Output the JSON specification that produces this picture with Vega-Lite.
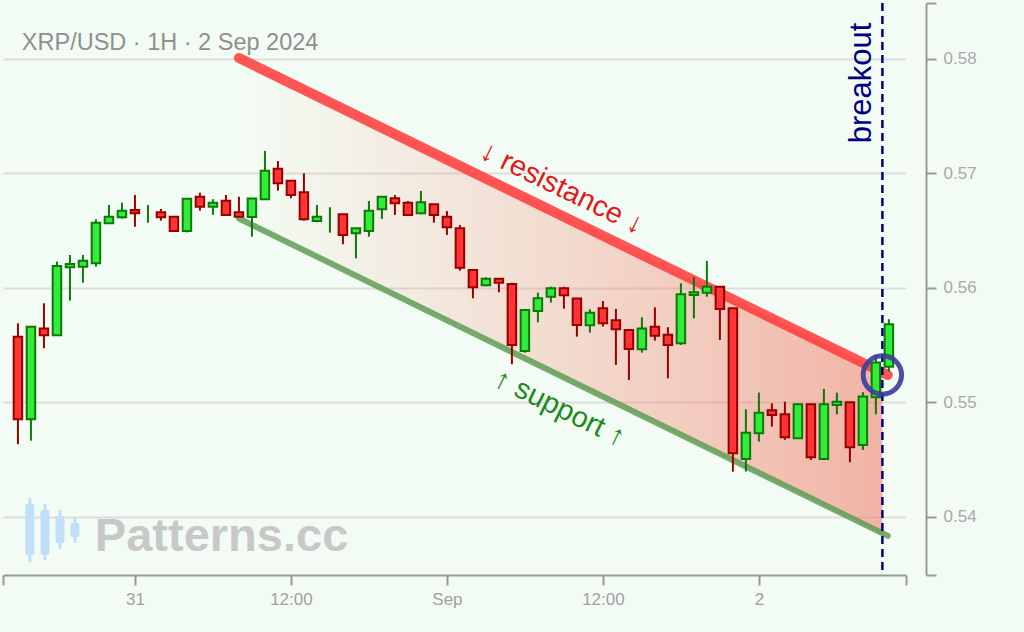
{
  "$schema": "https://vega.github.io/schema/vega-lite/v6.json",
  "description": "XRP/USD 1H descending channel with breakout",
  "width": 903,
  "height": 572,
  "autosize": {"type": "none"},
  "padding": {"left": 3, "top": 3, "right": 118, "bottom": 57},
  "background": "#f3fcf4",
  "config": {"font": "Liberation Sans", "view": {"stroke": null}},
  "datasets": {
    "candles": [
      {"t": "2024-08-30T15:00:00Z", "o": 0.55575, "h": 0.55692, "l": 0.54635, "c": 0.54853},
      {"t": "2024-08-30T16:00:00Z", "o": 0.54853, "h": 0.55665, "l": 0.54666, "c": 0.55662},
      {"t": "2024-08-30T17:00:00Z", "o": 0.55645, "h": 0.55866, "l": 0.55473, "c": 0.55587},
      {"t": "2024-08-30T18:00:00Z", "o": 0.55587, "h": 0.56230, "l": 0.55585, "c": 0.56192},
      {"t": "2024-08-30T19:00:00Z", "o": 0.56181, "h": 0.56288, "l": 0.55889, "c": 0.56210},
      {"t": "2024-08-30T20:00:00Z", "o": 0.56186, "h": 0.56288, "l": 0.56046, "c": 0.56238},
      {"t": "2024-08-30T21:00:00Z", "o": 0.56216, "h": 0.56600, "l": 0.56186, "c": 0.56570},
      {"t": "2024-08-30T22:00:00Z", "o": 0.56565, "h": 0.56725, "l": 0.56563, "c": 0.56623},
      {"t": "2024-08-30T23:00:00Z", "o": 0.56617, "h": 0.56745, "l": 0.56605, "c": 0.56675},
      {"t": "2024-08-31T00:00:00Z", "o": 0.56681, "h": 0.56812, "l": 0.56535, "c": 0.56652},
      {"t": "2024-08-31T01:00:00Z", "o": 0.56655, "h": 0.56725, "l": 0.56570, "c": 0.56655},
      {"t": "2024-08-31T02:00:00Z", "o": 0.56661, "h": 0.56690, "l": 0.56588, "c": 0.56617},
      {"t": "2024-08-31T03:00:00Z", "o": 0.56623, "h": 0.56625, "l": 0.56495, "c": 0.56498},
      {"t": "2024-08-31T04:00:00Z", "o": 0.56498, "h": 0.56782, "l": 0.56486, "c": 0.56780},
      {"t": "2024-08-31T05:00:00Z", "o": 0.56797, "h": 0.56832, "l": 0.56675, "c": 0.56710},
      {"t": "2024-08-31T06:00:00Z", "o": 0.56710, "h": 0.56775, "l": 0.56638, "c": 0.56745},
      {"t": "2024-08-31T07:00:00Z", "o": 0.56762, "h": 0.56812, "l": 0.56636, "c": 0.56638},
      {"t": "2024-08-31T08:00:00Z", "o": 0.56661, "h": 0.56797, "l": 0.56620, "c": 0.56623},
      {"t": "2024-08-31T09:00:00Z", "o": 0.56620, "h": 0.56784, "l": 0.56448, "c": 0.56782},
      {"t": "2024-08-31T10:00:00Z", "o": 0.56775, "h": 0.57197, "l": 0.56772, "c": 0.57024},
      {"t": "2024-08-31T11:00:00Z", "o": 0.57042, "h": 0.57109, "l": 0.56850, "c": 0.56914},
      {"t": "2024-08-31T12:00:00Z", "o": 0.56937, "h": 0.56940, "l": 0.56783, "c": 0.56812},
      {"t": "2024-08-31T13:00:00Z", "o": 0.56836, "h": 0.57002, "l": 0.56588, "c": 0.56600},
      {"t": "2024-08-31T14:00:00Z", "o": 0.56585, "h": 0.56725, "l": 0.56574, "c": 0.56623},
      {"t": "2024-08-31T15:00:00Z", "o": 0.56603, "h": 0.56705, "l": 0.56483, "c": 0.56603},
      {"t": "2024-08-31T16:00:00Z", "o": 0.56644, "h": 0.56646, "l": 0.56382, "c": 0.56463},
      {"t": "2024-08-31T17:00:00Z", "o": 0.56478, "h": 0.56523, "l": 0.56259, "c": 0.56521},
      {"t": "2024-08-31T18:00:00Z", "o": 0.56498, "h": 0.56760, "l": 0.56448, "c": 0.56675},
      {"t": "2024-08-31T19:00:00Z", "o": 0.56687, "h": 0.56799, "l": 0.56603, "c": 0.56797},
      {"t": "2024-08-31T20:00:00Z", "o": 0.56783, "h": 0.56812, "l": 0.56638, "c": 0.56740},
      {"t": "2024-08-31T21:00:00Z", "o": 0.56745, "h": 0.56760, "l": 0.56636, "c": 0.56638},
      {"t": "2024-08-31T22:00:00Z", "o": 0.56652, "h": 0.56847, "l": 0.56644, "c": 0.56748},
      {"t": "2024-08-31T23:00:00Z", "o": 0.56731, "h": 0.56733, "l": 0.56570, "c": 0.56638},
      {"t": "2024-09-01T00:00:00Z", "o": 0.56623, "h": 0.56672, "l": 0.56463, "c": 0.56530},
      {"t": "2024-09-01T01:00:00Z", "o": 0.56521, "h": 0.56550, "l": 0.56151, "c": 0.56177},
      {"t": "2024-09-01T02:00:00Z", "o": 0.56157, "h": 0.56163, "l": 0.55910, "c": 0.56006},
      {"t": "2024-09-01T03:00:00Z", "o": 0.56024, "h": 0.56094, "l": 0.56015, "c": 0.56081},
      {"t": "2024-09-01T04:00:00Z", "o": 0.56081, "h": 0.56083, "l": 0.55962, "c": 0.56046},
      {"t": "2024-09-01T05:00:00Z", "o": 0.56035, "h": 0.56046, "l": 0.55334, "c": 0.55502},
      {"t": "2024-09-01T06:00:00Z", "o": 0.55450, "h": 0.55810, "l": 0.55435, "c": 0.55808},
      {"t": "2024-09-01T07:00:00Z", "o": 0.55799, "h": 0.55959, "l": 0.55700, "c": 0.55910},
      {"t": "2024-09-01T08:00:00Z", "o": 0.55924, "h": 0.56011, "l": 0.55872, "c": 0.55997},
      {"t": "2024-09-01T09:00:00Z", "o": 0.55997, "h": 0.56011, "l": 0.55819, "c": 0.55936},
      {"t": "2024-09-01T10:00:00Z", "o": 0.55907, "h": 0.55909, "l": 0.55575, "c": 0.55677},
      {"t": "2024-09-01T11:00:00Z", "o": 0.55674, "h": 0.55814, "l": 0.55610, "c": 0.55784},
      {"t": "2024-09-01T12:00:00Z", "o": 0.55823, "h": 0.55886, "l": 0.55663, "c": 0.55692},
      {"t": "2024-09-01T13:00:00Z", "o": 0.55718, "h": 0.55817, "l": 0.55328, "c": 0.55639},
      {"t": "2024-09-01T14:00:00Z", "o": 0.55633, "h": 0.55635, "l": 0.55196, "c": 0.55467},
      {"t": "2024-09-01T15:00:00Z", "o": 0.55465, "h": 0.55744, "l": 0.55435, "c": 0.55645},
      {"t": "2024-09-01T16:00:00Z", "o": 0.55662, "h": 0.55831, "l": 0.55540, "c": 0.55583},
      {"t": "2024-09-01T17:00:00Z", "o": 0.55592, "h": 0.55657, "l": 0.55211, "c": 0.55502},
      {"t": "2024-09-01T18:00:00Z", "o": 0.55517, "h": 0.56041, "l": 0.55502, "c": 0.55945},
      {"t": "2024-09-01T19:00:00Z", "o": 0.55939, "h": 0.56096, "l": 0.55735, "c": 0.55962},
      {"t": "2024-09-01T20:00:00Z", "o": 0.55959, "h": 0.56236, "l": 0.55924, "c": 0.56011},
      {"t": "2024-09-01T21:00:00Z", "o": 0.56011, "h": 0.56013, "l": 0.55546, "c": 0.55817},
      {"t": "2024-09-01T22:00:00Z", "o": 0.55823, "h": 0.55825, "l": 0.54396, "c": 0.54556},
      {"t": "2024-09-01T23:00:00Z", "o": 0.54507, "h": 0.54941, "l": 0.54396, "c": 0.54736},
      {"t": "2024-09-02T00:00:00Z", "o": 0.54731, "h": 0.55086, "l": 0.54658, "c": 0.54911},
      {"t": "2024-09-02T01:00:00Z", "o": 0.54932, "h": 0.54993, "l": 0.54789, "c": 0.54891},
      {"t": "2024-09-02T02:00:00Z", "o": 0.54897, "h": 0.55007, "l": 0.54673, "c": 0.54696},
      {"t": "2024-09-02T03:00:00Z", "o": 0.54687, "h": 0.54993, "l": 0.54685, "c": 0.54984},
      {"t": "2024-09-02T04:00:00Z", "o": 0.54984, "h": 0.54986, "l": 0.54498, "c": 0.54521},
      {"t": "2024-09-02T05:00:00Z", "o": 0.54507, "h": 0.55118, "l": 0.54505, "c": 0.54984},
      {"t": "2024-09-02T06:00:00Z", "o": 0.54978, "h": 0.55086, "l": 0.54897, "c": 0.55007},
      {"t": "2024-09-02T07:00:00Z", "o": 0.55002, "h": 0.55004, "l": 0.54478, "c": 0.54609},
      {"t": "2024-09-02T08:00:00Z", "o": 0.54629, "h": 0.55090, "l": 0.54585, "c": 0.55051},
      {"t": "2024-09-02T09:00:00Z", "o": 0.55045, "h": 0.55415, "l": 0.54897, "c": 0.55348},
      {"t": "2024-09-02T10:00:00Z", "o": 0.55313, "h": 0.55727, "l": 0.55269, "c": 0.55683}
    ],
    "channel": [
      {"k": "res", "t": "2024-08-31T08:00:00Z", "p": 0.58009},
      {"k": "res", "t": "2024-09-02T09:55:00Z", "p": 0.55240},
      {"k": "sup", "t": "2024-08-31T08:00:00Z", "p": 0.56607},
      {"k": "sup", "t": "2024-09-02T09:55:00Z", "p": 0.53835}
    ],
    "zone": [
      {"t": "2024-08-31T08:00:00Z", "top": 0.58009, "bot": 0.56607},
      {"t": "2024-09-02T09:30:00Z", "top": 0.55266, "bot": 0.53849}
    ],
    "icon": [
      {"t": "2024-08-30T15:55:00Z", "o": 0.54114, "c": 0.53668, "h": 0.54166, "l": 0.53607},
      {"t": "2024-08-30T17:05:00Z", "o": 0.54061, "c": 0.53668, "h": 0.54114, "l": 0.53624},
      {"t": "2024-08-30T18:14:00Z", "o": 0.54009, "c": 0.53773, "h": 0.54061, "l": 0.53721},
      {"t": "2024-08-30T19:23:00Z", "o": 0.53948, "c": 0.53825, "h": 0.54000, "l": 0.53773}
    ]
  },
  "encoding": {
    "x": {
      "field": "t",
      "type": "temporal",
      "title": null,
      "scale": {"type": "utc", "domain": [1725025860000, 1725275940000], "padding": 0},
      "axis": {
        "values": [1725025860000, 1725062400000, 1725105600000, 1725148800000, 1725192000000, 1725235200000, 1725275940000],
        "labelExpr": "datum.value < 1725030000000 || datum.value > 1725270000000 ? '' : utchours(datum.value) == 12 ? '12:00' : utcdate(datum.value) == 1 ? 'Sep' : '' + utcdate(datum.value)",
        "grid": false,
        "domainColor": "#999999",
        "domainWidth": 2,
        "tickColor": "#999999",
        "tickWidth": 2,
        "tickSize": 10,
        "labelColor": "#a0a0a0",
        "labelFontSize": 17,
        "labelPadding": 6,
        "labelFlush": false
      }
    }
  },
  "layer": [
    {
      "data": {"name": "zone"},
      "mark": {
        "type": "area",
        "color": {
          "gradient": "linear",
          "x1": 0, "y1": 0, "x2": 1, "y2": 0,
          "stops": [
            {"offset": 0, "color": "rgba(245,140,115,0.0)"},
            {"offset": 1, "color": "rgba(240,120,100,0.55)"}
          ]
        }
      },
      "encoding": {
        "y": {
          "field": "top", "type": "quantitative", "title": null,
          "scale": {"domain": [0.53493, 0.58489], "nice": false, "zero": false},
          "axis": {
            "orient": "right",
            "offset": 20,
            "values": [0.53493, 0.54, 0.55, 0.56, 0.57, 0.58, 0.58489],
            "labelExpr": "datum.value < 0.5399 || datum.value > 0.5801 ? '' : format(datum.value, '.2f')",
            "grid": true,
            "gridColor": "#dddddd",
            "gridWidth": 2,
            "gridOpacity": {"condition": {"test": "datum.value < 0.5399 || datum.value > 0.5801", "value": 0}, "value": 1},
            "domainColor": "#999999",
            "domainWidth": 2,
            "tickColor": "#999999",
            "tickWidth": 2,
            "tickSize": 10,
            "labelColor": "#a8a8a8",
            "labelFontSize": 17,
            "labelPadding": 7
          }
        },
        "y2": {"field": "bot"}
      }
    },
    {
      "data": {"name": "channel"},
      "transform": [{"filter": "datum.k == 'sup'"}],
      "mark": {"type": "line", "color": "#5e9e55", "opacity": 0.85, "strokeWidth": 6, "strokeCap": "round"},
      "encoding": {
        "y": {"field": "p", "type": "quantitative", "title": null, "scale": {"domain": [0.53493, 0.58489], "nice": false, "zero": false}}
      }
    },
    {
      "data": {"name": "channel"},
      "transform": [{"filter": "datum.k == 'res'"}],
      "mark": {"type": "line", "color": "#ff3838", "opacity": 0.85, "strokeWidth": 10, "strokeCap": "round"},
      "encoding": {
        "y": {"field": "p", "type": "quantitative", "title": null, "scale": {"domain": [0.53493, 0.58489], "nice": false, "zero": false}}
      }
    },
    {
      "data": {"name": "icon"},
      "mark": {"type": "rule", "color": "#c2dffa", "strokeWidth": 3},
      "encoding": {
        "y": {"field": "l", "type": "quantitative", "title": null, "scale": {"domain": [0.53493, 0.58489], "nice": false, "zero": false}},
        "y2": {"field": "h"}
      }
    },
    {
      "data": {"name": "icon"},
      "mark": {"type": "bar", "width": 9, "color": "#c2dffa", "cornerRadius": 2},
      "encoding": {
        "y": {"field": "o", "type": "quantitative", "title": null, "scale": {"domain": [0.53493, 0.58489], "nice": false, "zero": false}},
        "y2": {"field": "c"}
      }
    },
    {
      "data": {"values": [{"t": "2024-08-30T20:55:00Z", "p": 0.53703, "s": "Patterns.cc"}]},
      "mark": {"type": "text", "align": "left", "baseline": "alphabetic", "fontSize": 47, "fontWeight": "bold", "color": "#c8c8c8"},
      "encoding": {
        "y": {"field": "p", "type": "quantitative", "title": null, "scale": {"domain": [0.53493, 0.58489], "nice": false, "zero": false}},
        "text": {"field": "s"}
      }
    },
    {
      "data": {"name": "candles"},
      "mark": {"type": "rule", "strokeWidth": 2},
      "encoding": {
        "y": {"field": "l", "type": "quantitative", "title": null, "scale": {"domain": [0.53493, 0.58489], "nice": false, "zero": false}},
        "y2": {"field": "h"},
        "color": {"condition": {"test": "datum.c >= datum.o", "value": "#0b7a0b"}, "value": "#960000"}
      }
    },
    {
      "data": {"name": "candles"},
      "transform": [{"filter": "datum.o != datum.c"}],
      "mark": {"type": "bar", "width": 8.5, "strokeWidth": 2},
      "encoding": {
        "y": {"field": "o", "type": "quantitative", "title": null, "scale": {"domain": [0.53493, 0.58489], "nice": false, "zero": false}},
        "y2": {"field": "c"},
        "fill": {"condition": {"test": "datum.c >= datum.o", "value": "#33ec3a"}, "value": "#ff3535"},
        "stroke": {"condition": {"test": "datum.c >= datum.o", "value": "#0b7a0b"}, "value": "#960000"}
      }
    },
    {
      "data": {"values": [{"t": "2024-09-02T09:30:00Z"}]},
      "mark": {"type": "rule", "color": "#00007f", "strokeWidth": 2.5, "strokeDash": [8, 5]},
      "encoding": {}
    },
    {
      "data": {"values": [{"t": "2024-09-02T09:30:00Z", "p": 0.5524}]},
      "mark": {"type": "point", "shape": "circle", "size": 1470, "filled": false, "stroke": "#3c3c9e", "strokeWidth": 5, "opacity": 0.9},
      "encoding": {
        "y": {"field": "p", "type": "quantitative", "title": null, "scale": {"domain": [0.53493, 0.58489], "nice": false, "zero": false}}
      }
    },
    {
      "data": {"values": [
        {"t": "2024-09-01T08:51:00Z", "p": 0.56873, "s": "↓ resistance ↓"}
      ]},
      "mark": {"type": "text", "align": "center", "baseline": "middle", "angle": 26, "fontSize": 29, "color": "#e01a1a"},
      "encoding": {
        "y": {"field": "p", "type": "quantitative", "title": null, "scale": {"domain": [0.53493, 0.58489], "nice": false, "zero": false}},
        "text": {"field": "s"}
      }
    },
    {
      "data": {"values": [
        {"t": "2024-09-01T08:41:00Z", "p": 0.54952, "s": "↑ support ↑"}
      ]},
      "mark": {"type": "text", "align": "center", "baseline": "middle", "angle": 26, "fontSize": 29, "color": "#1d8a1d"},
      "encoding": {
        "y": {"field": "p", "type": "quantitative", "title": null, "scale": {"domain": [0.53493, 0.58489], "nice": false, "zero": false}},
        "text": {"field": "s"}
      }
    },
    {
      "data": {"values": [
        {"t": "2024-09-02T07:55:00Z", "p": 0.5779, "s": "breakout"}
      ]},
      "mark": {"type": "text", "align": "center", "baseline": "middle", "angle": 270, "fontSize": 31, "color": "#00007f"},
      "encoding": {
        "y": {"field": "p", "type": "quantitative", "title": null, "scale": {"domain": [0.53493, 0.58489], "nice": false, "zero": false}},
        "text": {"field": "s"}
      }
    },
    {
      "data": {"values": [
        {"t": "2024-08-30T15:18:00Z", "p": 0.58079, "s": "XRP/USD · 1H · 2 Sep 2024"}
      ]},
      "mark": {"type": "text", "align": "left", "baseline": "alphabetic", "fontSize": 23.5, "color": "#8f8f8f"},
      "encoding": {
        "y": {"field": "p", "type": "quantitative", "title": null, "scale": {"domain": [0.53493, 0.58489], "nice": false, "zero": false}},
        "text": {"field": "s"}
      }
    }
  ]
}
